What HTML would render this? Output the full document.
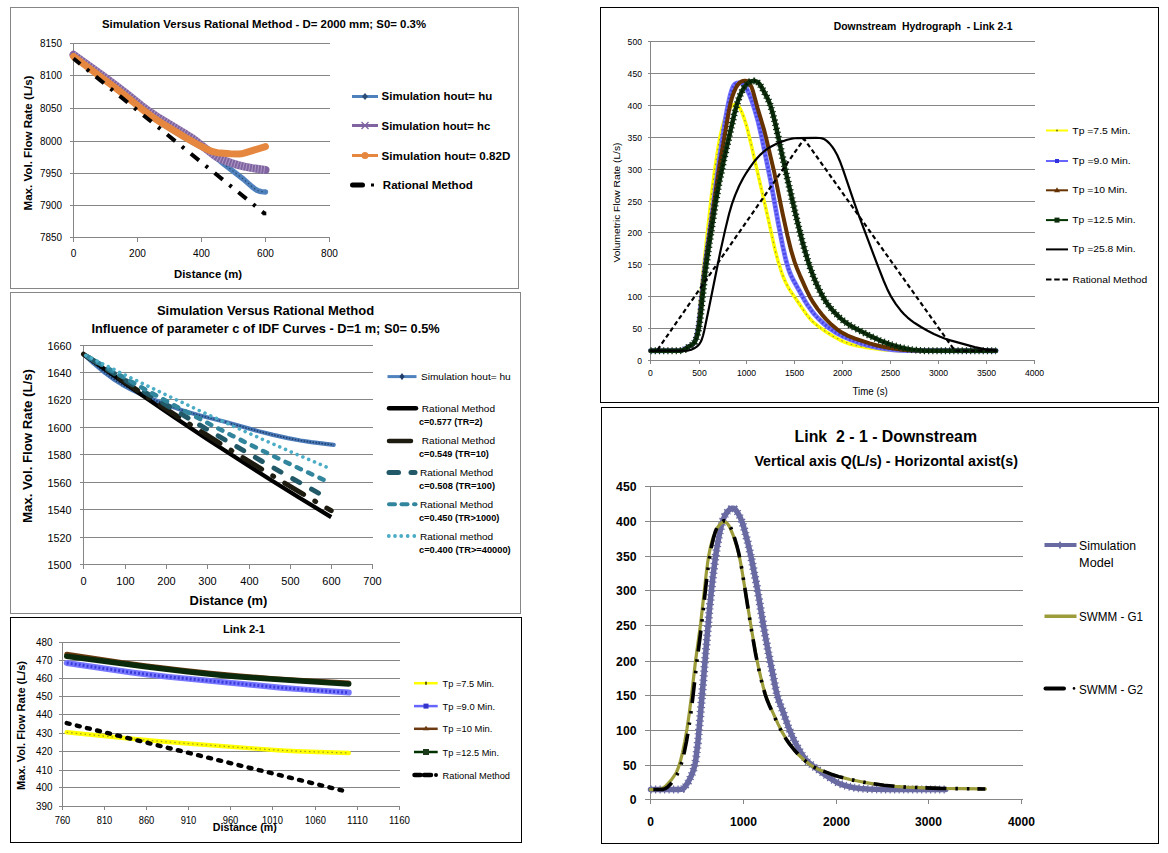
<!DOCTYPE html>
<html><head><meta charset="utf-8"><title>Charts</title>
<style>
html,body{margin:0;padding:0;background:#fff;}
svg{display:block;}
text{font-family:"Liberation Sans",sans-serif;white-space:pre;}
</style></head>
<body>
<svg width="1168" height="853" viewBox="0 0 1168 853">
<rect x="0" y="0" width="1168" height="853" fill="#fff"/>
<rect x="10.5" y="7.5" width="508" height="281" fill="none" stroke="#868686" stroke-width="1" shape-rendering="crispEdges"/>
<text x="102.0" y="28.0" font-size="11" font-weight="bold" textLength="324.0" lengthAdjust="spacingAndGlyphs">Simulation Versus Rational Method - D= 2000 mm; S0= 0.3%</text>
<line x1="70" y1="43.5" x2="329.5" y2="43.5" stroke="#868686" stroke-width="1" shape-rendering="crispEdges"/>
<text x="62.0" y="47.1" font-size="10" text-anchor="end" textLength="22.0" lengthAdjust="spacingAndGlyphs">8150</text>
<line x1="70" y1="75.5" x2="329.5" y2="75.5" stroke="#868686" stroke-width="1" shape-rendering="crispEdges"/>
<text x="62.0" y="79.1" font-size="10" text-anchor="end" textLength="22.0" lengthAdjust="spacingAndGlyphs">8100</text>
<line x1="70" y1="108.5" x2="329.5" y2="108.5" stroke="#868686" stroke-width="1" shape-rendering="crispEdges"/>
<text x="62.0" y="112.1" font-size="10" text-anchor="end" textLength="22.0" lengthAdjust="spacingAndGlyphs">8050</text>
<line x1="70" y1="141.5" x2="329.5" y2="141.5" stroke="#868686" stroke-width="1" shape-rendering="crispEdges"/>
<text x="62.0" y="145.1" font-size="10" text-anchor="end" textLength="22.0" lengthAdjust="spacingAndGlyphs">8000</text>
<line x1="70" y1="173.5" x2="329.5" y2="173.5" stroke="#868686" stroke-width="1" shape-rendering="crispEdges"/>
<text x="62.0" y="177.1" font-size="10" text-anchor="end" textLength="22.0" lengthAdjust="spacingAndGlyphs">7950</text>
<line x1="70" y1="205.5" x2="329.5" y2="205.5" stroke="#868686" stroke-width="1" shape-rendering="crispEdges"/>
<text x="62.0" y="209.1" font-size="10" text-anchor="end" textLength="22.0" lengthAdjust="spacingAndGlyphs">7900</text>
<line x1="70" y1="237.5" x2="329.5" y2="237.5" stroke="#868686" stroke-width="1" shape-rendering="crispEdges"/>
<text x="62.0" y="241.1" font-size="10" text-anchor="end" textLength="22.0" lengthAdjust="spacingAndGlyphs">7850</text>
<line x1="73.5" y1="43" x2="73.5" y2="241.5" stroke="#868686" stroke-width="1" shape-rendering="crispEdges"/>
<line x1="73.5" y1="237.5" x2="73.5" y2="241.5" stroke="#868686" stroke-width="1" shape-rendering="crispEdges"/>
<text x="73.5" y="256.5" font-size="10" text-anchor="middle" textLength="5.6" lengthAdjust="spacingAndGlyphs">0</text>
<line x1="137.5" y1="237.5" x2="137.5" y2="241.5" stroke="#868686" stroke-width="1" shape-rendering="crispEdges"/>
<text x="137.5" y="256.5" font-size="10" text-anchor="middle" textLength="16.8" lengthAdjust="spacingAndGlyphs">200</text>
<line x1="201.5" y1="237.5" x2="201.5" y2="241.5" stroke="#868686" stroke-width="1" shape-rendering="crispEdges"/>
<text x="201.5" y="256.5" font-size="10" text-anchor="middle" textLength="16.8" lengthAdjust="spacingAndGlyphs">400</text>
<line x1="265.5" y1="237.5" x2="265.5" y2="241.5" stroke="#868686" stroke-width="1" shape-rendering="crispEdges"/>
<text x="265.5" y="256.5" font-size="10" text-anchor="middle" textLength="16.8" lengthAdjust="spacingAndGlyphs">600</text>
<line x1="329.5" y1="237.5" x2="329.5" y2="241.5" stroke="#868686" stroke-width="1" shape-rendering="crispEdges"/>
<text x="329.5" y="256.5" font-size="10" text-anchor="middle" textLength="16.8" lengthAdjust="spacingAndGlyphs">800</text>
<text x="174.0" y="278.0" font-size="11" font-weight="bold" textLength="68.0" lengthAdjust="spacingAndGlyphs">Distance (m)</text>
<text x="31.8" y="210.5" font-size="11" font-weight="bold" textLength="135.0" lengthAdjust="spacingAndGlyphs" transform="rotate(-90 31.8 210.5)">Max. Vol. Flow Rate (L/s)</text>
<path d="M73.50,56.43 L117.00,89.10 L124.75,95.23 L142.22,109.65 L151.42,116.63 L159.58,122.05 L185.02,137.87 L192.71,142.39 L201.01,146.69 L207.07,150.48 L212.47,154.60 L225.18,165.07 L243.27,179.04 L252.09,186.81 L255.52,189.39 L257.48,190.51 L259.47,191.27 L261.48,191.62 L265.50,191.91" fill="none" stroke="#4F81BD" stroke-width="5.5" stroke-linecap="round" stroke-linejoin="round"/>
<path d="M73.50,56.43 L117.00,89.10 L124.75,95.23 L142.22,109.65 L151.42,116.63 L159.58,122.05 L185.02,137.87 L192.71,142.39 L201.01,146.69 L207.07,150.48 L212.47,154.60 L225.18,165.07 L243.27,179.04 L252.09,186.81 L255.52,189.39 L257.48,190.51 L259.47,191.27 L261.48,191.62 L265.50,191.91" fill="none" stroke="#2C4D75" stroke-width="1.2" stroke-linecap="butt" stroke-linejoin="round" stroke-dasharray="1.5 2.5"/>
<path d="M73.50,54.82 L103.47,76.33 L117.48,86.63 L125.24,92.58 L141.73,105.87 L149.49,111.70 L158.62,117.72 L185.02,133.60 L191.26,137.58 L197.12,141.80 L213.39,154.61 L216.38,156.67 L220.26,158.72 L225.10,160.79 L231.40,163.00 L238.22,165.08 L244.58,166.62 L252.39,168.16 L265.50,169.92" fill="none" stroke="#8064A2" stroke-width="8" stroke-linecap="round" stroke-linejoin="round"/>
<path d="M73.50,54.82 L103.47,76.33 L117.48,86.63 L125.24,92.58 L141.73,105.87 L149.49,111.70 L158.62,117.72 L185.02,133.60 L191.26,137.58 L197.12,141.80 L213.39,154.61 L216.38,156.67 L220.26,158.72 L225.10,160.79 L231.40,163.00 L238.22,165.08 L244.58,166.62 L252.39,168.16 L265.50,169.92" fill="none" stroke="#FFFFFF" stroke-width="8" stroke-linecap="butt" stroke-linejoin="round" stroke-dasharray="1 2" stroke-opacity="0.35"/>
<path d="M73.50,56.43 L116.52,88.74 L124.75,95.19 L142.22,109.40 L151.90,116.64 L161.02,122.63 L184.06,136.81 L199.42,145.45 L206.62,149.15 L212.86,151.66 L217.29,152.70 L230.04,153.81 L238.79,154.07 L241.22,153.81 L244.13,153.12 L265.50,146.64" fill="none" stroke="#E5873E" stroke-width="7" stroke-linecap="round" stroke-linejoin="round"/>
<path d="M73.5,58.5 L264.5,213.5" stroke="#000" stroke-width="4" fill="none" stroke-dasharray="10.5 8.5 3 8.6" stroke-dashoffset="1.85" stroke-linecap="butt"/>
<rect x="262.7" y="211.7" width="3.6" height="3.6" fill="#000"/>
<line x1="352" y1="96.5" x2="378" y2="96.5" stroke="#4F81BD" stroke-width="3"/>
<path d="M365,93.0 L368,96.5 L365,100.0 L362,96.5 Z" fill="#2C4D75"/>
<line x1="352" y1="125.5" x2="378" y2="125.5" stroke="#8064A2" stroke-width="3"/>
<path d="M361.5,122.0 L368.5,129.0 M368.5,122.0 L361.5,129.0" stroke="#8064A2" stroke-width="1.3"/>
<line x1="352" y1="155.5" x2="378" y2="155.5" stroke="#E5873E" stroke-width="3"/>
<circle cx="365" cy="155.5" r="3.5" fill="#E5873E"/>
<line x1="352.5" y1="185" x2="362.5" y2="185" stroke="#000" stroke-width="5" stroke-linecap="round"/>
<rect x="371" y="183.5" width="3" height="3" fill="#000"/>
<text x="381.6" y="100.3" font-size="11" font-weight="bold" textLength="110.7" lengthAdjust="spacingAndGlyphs">Simulation hout= hu</text>
<text x="381.6" y="130.0" font-size="11" font-weight="bold" textLength="108.7" lengthAdjust="spacingAndGlyphs">Simulation hout= hc</text>
<text x="381.6" y="160.0" font-size="11" font-weight="bold" textLength="128.7" lengthAdjust="spacingAndGlyphs">Simulation hout= 0.82D</text>
<text x="382.8" y="189.0" font-size="11" font-weight="bold" textLength="90.0" lengthAdjust="spacingAndGlyphs">Rational Method</text>
<rect x="10.5" y="292.5" width="510" height="321" fill="none" stroke="#868686" stroke-width="1" shape-rendering="crispEdges"/>
<text x="156.9" y="314.5" font-size="12" font-weight="bold" textLength="217.3" lengthAdjust="spacingAndGlyphs">Simulation Versus Rational Method</text>
<text x="91.5" y="332.8" font-size="12" font-weight="bold" textLength="348.2" lengthAdjust="spacingAndGlyphs">Influence of parameter c of IDF Curves - D=1 m; S0= 0.5%</text>
<line x1="79.5" y1="345.5" x2="373" y2="345.5" stroke="#868686" stroke-width="1" shape-rendering="crispEdges"/>
<text x="71.5" y="349.5" font-size="11" text-anchor="end" textLength="24.0" lengthAdjust="spacingAndGlyphs">1660</text>
<line x1="79.5" y1="372.5" x2="373" y2="372.5" stroke="#868686" stroke-width="1" shape-rendering="crispEdges"/>
<text x="71.5" y="376.5" font-size="11" text-anchor="end" textLength="24.0" lengthAdjust="spacingAndGlyphs">1640</text>
<line x1="79.5" y1="399.5" x2="373" y2="399.5" stroke="#868686" stroke-width="1" shape-rendering="crispEdges"/>
<text x="71.5" y="403.5" font-size="11" text-anchor="end" textLength="24.0" lengthAdjust="spacingAndGlyphs">1620</text>
<line x1="79.5" y1="427.5" x2="373" y2="427.5" stroke="#868686" stroke-width="1" shape-rendering="crispEdges"/>
<text x="71.5" y="431.5" font-size="11" text-anchor="end" textLength="24.0" lengthAdjust="spacingAndGlyphs">1600</text>
<line x1="79.5" y1="454.5" x2="373" y2="454.5" stroke="#868686" stroke-width="1" shape-rendering="crispEdges"/>
<text x="71.5" y="458.5" font-size="11" text-anchor="end" textLength="24.0" lengthAdjust="spacingAndGlyphs">1580</text>
<line x1="79.5" y1="482.5" x2="373" y2="482.5" stroke="#868686" stroke-width="1" shape-rendering="crispEdges"/>
<text x="71.5" y="486.5" font-size="11" text-anchor="end" textLength="24.0" lengthAdjust="spacingAndGlyphs">1560</text>
<line x1="79.5" y1="509.5" x2="373" y2="509.5" stroke="#868686" stroke-width="1" shape-rendering="crispEdges"/>
<text x="71.5" y="513.5" font-size="11" text-anchor="end" textLength="24.0" lengthAdjust="spacingAndGlyphs">1540</text>
<line x1="79.5" y1="537.5" x2="373" y2="537.5" stroke="#868686" stroke-width="1" shape-rendering="crispEdges"/>
<text x="71.5" y="541.5" font-size="11" text-anchor="end" textLength="24.0" lengthAdjust="spacingAndGlyphs">1520</text>
<line x1="79.5" y1="564.5" x2="373" y2="564.5" stroke="#868686" stroke-width="1" shape-rendering="crispEdges"/>
<text x="71.5" y="568.5" font-size="11" text-anchor="end" textLength="24.0" lengthAdjust="spacingAndGlyphs">1500</text>
<line x1="83.5" y1="345" x2="83.5" y2="568.5" stroke="#868686" stroke-width="1" shape-rendering="crispEdges"/>
<line x1="83.5" y1="564.5" x2="83.5" y2="568.5" stroke="#868686" stroke-width="1" shape-rendering="crispEdges"/>
<text x="83.5" y="584.5" font-size="11" text-anchor="middle" textLength="6.1" lengthAdjust="spacingAndGlyphs">0</text>
<line x1="125.5" y1="564.5" x2="125.5" y2="568.5" stroke="#868686" stroke-width="1" shape-rendering="crispEdges"/>
<text x="125.5" y="584.5" font-size="11" text-anchor="middle" textLength="18.3" lengthAdjust="spacingAndGlyphs">100</text>
<line x1="166.5" y1="564.5" x2="166.5" y2="568.5" stroke="#868686" stroke-width="1" shape-rendering="crispEdges"/>
<text x="166.5" y="584.5" font-size="11" text-anchor="middle" textLength="18.3" lengthAdjust="spacingAndGlyphs">200</text>
<line x1="207.5" y1="564.5" x2="207.5" y2="568.5" stroke="#868686" stroke-width="1" shape-rendering="crispEdges"/>
<text x="207.5" y="584.5" font-size="11" text-anchor="middle" textLength="18.3" lengthAdjust="spacingAndGlyphs">300</text>
<line x1="249.5" y1="564.5" x2="249.5" y2="568.5" stroke="#868686" stroke-width="1" shape-rendering="crispEdges"/>
<text x="249.5" y="584.5" font-size="11" text-anchor="middle" textLength="18.3" lengthAdjust="spacingAndGlyphs">400</text>
<line x1="290.5" y1="564.5" x2="290.5" y2="568.5" stroke="#868686" stroke-width="1" shape-rendering="crispEdges"/>
<text x="290.5" y="584.5" font-size="11" text-anchor="middle" textLength="18.3" lengthAdjust="spacingAndGlyphs">500</text>
<line x1="331.5" y1="564.5" x2="331.5" y2="568.5" stroke="#868686" stroke-width="1" shape-rendering="crispEdges"/>
<text x="331.5" y="584.5" font-size="11" text-anchor="middle" textLength="18.3" lengthAdjust="spacingAndGlyphs">600</text>
<line x1="372.5" y1="564.5" x2="372.5" y2="568.5" stroke="#868686" stroke-width="1" shape-rendering="crispEdges"/>
<text x="372.5" y="584.5" font-size="11" text-anchor="middle" textLength="18.3" lengthAdjust="spacingAndGlyphs">700</text>
<text x="189.6" y="605.3" font-size="12" font-weight="bold" textLength="77.7" lengthAdjust="spacingAndGlyphs">Distance (m)</text>
<text x="32.2" y="523.0" font-size="12.5" font-weight="bold" textLength="154.0" lengthAdjust="spacingAndGlyphs" transform="rotate(-90 32.2 523.0)">Max. Vol. Flow Rate (L/s)</text>
<path d="M83.50,354.21 L93.60,363.41 L104.89,372.79 L113.07,378.87 L121.98,384.59 L130.27,389.14 L140.49,393.99 L157.68,401.29 L171.53,406.63 L183.51,410.72 L198.03,414.98 L225.78,422.09 L258.67,431.27 L273.19,434.90 L287.80,438.14 L300.48,440.51 L311.13,442.07 L333.69,444.85" fill="none" stroke="#4A7AB8" stroke-width="4.2" stroke-linecap="round" stroke-linejoin="round"/>
<path d="M83.50,354.21 L93.60,363.41 L104.89,372.79 L113.07,378.87 L121.98,384.59 L130.27,389.14 L140.49,393.99 L157.68,401.29 L171.53,406.63 L183.51,410.72 L198.03,414.98 L225.78,422.09 L258.67,431.27 L273.19,434.90 L287.80,438.14 L300.48,440.51 L311.13,442.07 L333.69,444.85" fill="none" stroke="#1F3D6B" stroke-width="1.6" stroke-linecap="butt" stroke-linejoin="round" stroke-dasharray="1.5 1.5"/>
<path d="M83.50,354.21 L116.53,377.54 L145.43,397.55 L174.33,417.17 L207.36,439.14 L240.39,460.61 L269.29,478.99 L298.19,496.99 L331.21,517.10" fill="none" stroke="#000000" stroke-width="4.2" stroke-linecap="butt" stroke-linejoin="round"/>
<path d="M83.50,354.21 L112.40,373.69 L145.43,395.56 L174.33,414.34 L207.36,435.42 L236.26,453.51 L269.29,473.80 L302.31,493.66 L331.21,510.70" fill="none" stroke="#1D1B10" stroke-width="5" stroke-linecap="round" stroke-linejoin="round" stroke-dasharray="22 13 1 13" stroke-dashoffset="6"/>
<path d="M83.50,354.21 L116.53,374.80 L145.43,392.53 L203.23,427.18 L261.03,460.76 L289.93,477.15 L322.13,495.09" fill="none" stroke="#215968" stroke-width="5" stroke-linecap="round" stroke-linejoin="round" stroke-dasharray="8 13.5" stroke-dashoffset="14.5"/>
<path d="M83.50,354.21 L112.40,370.99 L141.30,387.31 L170.20,403.18 L203.23,420.75 L232.13,435.65 L265.16,452.11 L294.06,466.03 L325.43,480.63" fill="none" stroke="#31859C" stroke-width="4.5" stroke-linecap="round" stroke-linejoin="round" stroke-dasharray="4.5 8" stroke-dashoffset="8.5"/>
<path d="M83.50,354.21 L112.40,368.72 L141.30,382.93 L170.20,396.85 L203.23,412.41 L236.26,427.58 L265.16,440.55 L294.06,453.23 L326.67,467.19" fill="none" stroke="#4BACC6" stroke-width="3.6" stroke-linecap="round" stroke-linejoin="round" stroke-dasharray="0.01 6.3" stroke-dashoffset="3.8"/>
<line x1="387.5" y1="376.6" x2="416.5" y2="376.6" stroke="#4F81BD" stroke-width="3"/>
<path d="M402,373 L404.5,376.6 L402,380.2 L399.5,376.6 Z" fill="#1F3D6B"/>
<line x1="389" y1="408.3" x2="416" y2="408.3" stroke="#000" stroke-width="4.5" stroke-linecap="round"/>
<line x1="389" y1="440.9" x2="411" y2="440.9" stroke="#1D1B10" stroke-width="4.5" stroke-linecap="round"/>
<line x1="389" y1="472.6" x2="398.5" y2="472.6" stroke="#215968" stroke-width="5" stroke-linecap="round"/>
<line x1="411" y1="472.6" x2="415" y2="472.6" stroke="#215968" stroke-width="5" stroke-linecap="round"/>
<line x1="389" y1="504.3" x2="395" y2="504.3" stroke="#31859C" stroke-width="4" stroke-linecap="round"/>
<line x1="401.5" y1="504.3" x2="407.5" y2="504.3" stroke="#31859C" stroke-width="4" stroke-linecap="round"/>
<line x1="414" y1="504.3" x2="415.5" y2="504.3" stroke="#31859C" stroke-width="4" stroke-linecap="round"/>
<circle cx="388.8" cy="536" r="1.9" fill="#4BACC6"/>
<circle cx="395" cy="536" r="1.9" fill="#4BACC6"/>
<circle cx="401.2" cy="536" r="1.9" fill="#4BACC6"/>
<circle cx="407.7" cy="536" r="1.9" fill="#4BACC6"/>
<circle cx="414.3" cy="536" r="1.9" fill="#4BACC6"/>
<text x="420.9" y="380.0" font-size="9" textLength="89.8" lengthAdjust="spacingAndGlyphs">Simulation hout= hu</text>
<text x="421.8" y="412.0" font-size="9" textLength="73.2" lengthAdjust="spacingAndGlyphs">Rational Method</text>
<text x="419.0" y="425.4" font-size="9" font-weight="bold" textLength="63.6" lengthAdjust="spacingAndGlyphs">c=0.577 (TR=2)</text>
<text x="421.8" y="444.1" font-size="9" textLength="73.2" lengthAdjust="spacingAndGlyphs">Rational Method</text>
<text x="419.0" y="457.0" font-size="9" font-weight="bold" textLength="69.9" lengthAdjust="spacingAndGlyphs">c=0.549 (TR=10)</text>
<text x="420.0" y="476.0" font-size="9" textLength="73.2" lengthAdjust="spacingAndGlyphs">Rational Method</text>
<text x="419.0" y="488.8" font-size="9" font-weight="bold" textLength="76.0" lengthAdjust="spacingAndGlyphs">c=0.508 (TR=100)</text>
<text x="420.0" y="507.5" font-size="9" textLength="73.2" lengthAdjust="spacingAndGlyphs">Rational Method</text>
<text x="419.0" y="520.5" font-size="9" font-weight="bold" textLength="80.4" lengthAdjust="spacingAndGlyphs">c=0.450 (TR&gt;1000)</text>
<text x="420.0" y="539.5" font-size="9" textLength="73.2" lengthAdjust="spacingAndGlyphs">Rational method</text>
<text x="419.0" y="552.9" font-size="9" font-weight="bold" textLength="91.7" lengthAdjust="spacingAndGlyphs">c=0.400 (TR&gt;=40000)</text>
<rect x="10.5" y="617.5" width="510.5" height="225" fill="none" stroke="#000" stroke-width="1" shape-rendering="crispEdges"/>
<text x="223.0" y="633.3" font-size="10" font-weight="bold" textLength="42.0" lengthAdjust="spacingAndGlyphs">Link 2-1</text>
<line x1="58.5" y1="642.5" x2="399.5" y2="642.5" stroke="#868686" stroke-width="1" shape-rendering="crispEdges"/>
<text x="52.5" y="646.0" font-size="10" text-anchor="end" textLength="16.5" lengthAdjust="spacingAndGlyphs">480</text>
<line x1="58.5" y1="660.5" x2="399.5" y2="660.5" stroke="#868686" stroke-width="1" shape-rendering="crispEdges"/>
<text x="52.5" y="664.0" font-size="10" text-anchor="end" textLength="16.5" lengthAdjust="spacingAndGlyphs">470</text>
<line x1="58.5" y1="678.5" x2="399.5" y2="678.5" stroke="#868686" stroke-width="1" shape-rendering="crispEdges"/>
<text x="52.5" y="682.0" font-size="10" text-anchor="end" textLength="16.5" lengthAdjust="spacingAndGlyphs">460</text>
<line x1="58.5" y1="696.5" x2="399.5" y2="696.5" stroke="#868686" stroke-width="1" shape-rendering="crispEdges"/>
<text x="52.5" y="700.0" font-size="10" text-anchor="end" textLength="16.5" lengthAdjust="spacingAndGlyphs">450</text>
<line x1="58.5" y1="714.5" x2="399.5" y2="714.5" stroke="#868686" stroke-width="1" shape-rendering="crispEdges"/>
<text x="52.5" y="718.0" font-size="10" text-anchor="end" textLength="16.5" lengthAdjust="spacingAndGlyphs">440</text>
<line x1="58.5" y1="733.5" x2="399.5" y2="733.5" stroke="#868686" stroke-width="1" shape-rendering="crispEdges"/>
<text x="52.5" y="737.0" font-size="10" text-anchor="end" textLength="16.5" lengthAdjust="spacingAndGlyphs">430</text>
<line x1="58.5" y1="751.5" x2="399.5" y2="751.5" stroke="#868686" stroke-width="1" shape-rendering="crispEdges"/>
<text x="52.5" y="755.0" font-size="10" text-anchor="end" textLength="16.5" lengthAdjust="spacingAndGlyphs">420</text>
<line x1="58.5" y1="770.5" x2="399.5" y2="770.5" stroke="#868686" stroke-width="1" shape-rendering="crispEdges"/>
<text x="52.5" y="774.0" font-size="10" text-anchor="end" textLength="16.5" lengthAdjust="spacingAndGlyphs">410</text>
<line x1="58.5" y1="787.5" x2="399.5" y2="787.5" stroke="#868686" stroke-width="1" shape-rendering="crispEdges"/>
<text x="52.5" y="791.0" font-size="10" text-anchor="end" textLength="16.5" lengthAdjust="spacingAndGlyphs">400</text>
<line x1="58.5" y1="806.5" x2="399.5" y2="806.5" stroke="#868686" stroke-width="1" shape-rendering="crispEdges"/>
<text x="52.5" y="810.0" font-size="10" text-anchor="end" textLength="16.5" lengthAdjust="spacingAndGlyphs">390</text>
<line x1="62.5" y1="642" x2="62.5" y2="809.5" stroke="#868686" stroke-width="1" shape-rendering="crispEdges"/>
<line x1="62.5" y1="806.5" x2="62.5" y2="809.5" stroke="#868686" stroke-width="1" shape-rendering="crispEdges"/>
<text x="62.5" y="823.8" font-size="10" text-anchor="middle" textLength="15.6" lengthAdjust="spacingAndGlyphs">760</text>
<line x1="104.5" y1="806.5" x2="104.5" y2="809.5" stroke="#868686" stroke-width="1" shape-rendering="crispEdges"/>
<text x="104.5" y="823.8" font-size="10" text-anchor="middle" textLength="15.6" lengthAdjust="spacingAndGlyphs">810</text>
<line x1="146.5" y1="806.5" x2="146.5" y2="809.5" stroke="#868686" stroke-width="1" shape-rendering="crispEdges"/>
<text x="146.5" y="823.8" font-size="10" text-anchor="middle" textLength="15.6" lengthAdjust="spacingAndGlyphs">860</text>
<line x1="188.5" y1="806.5" x2="188.5" y2="809.5" stroke="#868686" stroke-width="1" shape-rendering="crispEdges"/>
<text x="188.5" y="823.8" font-size="10" text-anchor="middle" textLength="15.6" lengthAdjust="spacingAndGlyphs">910</text>
<line x1="230.5" y1="806.5" x2="230.5" y2="809.5" stroke="#868686" stroke-width="1" shape-rendering="crispEdges"/>
<text x="230.5" y="823.8" font-size="10" text-anchor="middle" textLength="15.6" lengthAdjust="spacingAndGlyphs">960</text>
<line x1="272.5" y1="806.5" x2="272.5" y2="809.5" stroke="#868686" stroke-width="1" shape-rendering="crispEdges"/>
<text x="272.5" y="823.8" font-size="10" text-anchor="middle" textLength="20.8" lengthAdjust="spacingAndGlyphs">1010</text>
<line x1="315.5" y1="806.5" x2="315.5" y2="809.5" stroke="#868686" stroke-width="1" shape-rendering="crispEdges"/>
<text x="315.5" y="823.8" font-size="10" text-anchor="middle" textLength="20.8" lengthAdjust="spacingAndGlyphs">1060</text>
<line x1="357.5" y1="806.5" x2="357.5" y2="809.5" stroke="#868686" stroke-width="1" shape-rendering="crispEdges"/>
<text x="357.5" y="823.8" font-size="10" text-anchor="middle" textLength="20.8" lengthAdjust="spacingAndGlyphs">1110</text>
<line x1="399.5" y1="806.5" x2="399.5" y2="809.5" stroke="#868686" stroke-width="1" shape-rendering="crispEdges"/>
<text x="399.5" y="823.8" font-size="10" text-anchor="middle" textLength="20.8" lengthAdjust="spacingAndGlyphs">1160</text>
<text x="212.8" y="830.8" font-size="11" font-weight="bold" textLength="64.0" lengthAdjust="spacingAndGlyphs">Distance (m)</text>
<text x="25.0" y="790.0" font-size="11" font-weight="bold" textLength="129.0" lengthAdjust="spacingAndGlyphs" transform="rotate(-90 25.0 790.0)">Max. Vol. Flow Rate (L/s)</text>
<path d="M66.71,732.33 L123.93,738.06 L153.62,740.81 L184.14,743.27 L255.81,748.63 L277.79,750.14 L296.23,751.16 L348.78,753.02" fill="none" stroke="#FFFF00" stroke-width="4.5" stroke-linecap="round" stroke-linejoin="round"/>
<path d="M66.71,732.33 L123.93,738.06 L153.62,740.81 L184.14,743.27 L255.81,748.63 L277.79,750.14 L296.23,751.16 L348.78,753.02" fill="none" stroke="#9A9A20" stroke-width="1.2" stroke-linecap="butt" stroke-linejoin="round" stroke-dasharray="1.5 3"/>
<path d="M66.71,663.02 L131.70,672.45 L150.07,674.82 L168.53,676.89 L281.33,687.70 L305.46,689.63 L348.78,692.60" fill="none" stroke="#7777FF" stroke-width="6" stroke-linecap="round" stroke-linejoin="round"/>
<path d="M66.71,663.02 L131.70,672.45 L150.07,674.82 L168.53,676.89 L281.33,687.70 L305.46,689.63 L348.78,692.60" fill="none" stroke="#3B3BDD" stroke-width="3" stroke-linecap="butt" stroke-linejoin="round" stroke-dasharray="2 2"/>
<path d="M66.71,654.31 L119.69,662.11 L145.12,665.64 L178.46,669.77 L210.41,673.26 L240.21,676.04 L274.24,678.65 L303.33,680.55 L348.78,682.98" fill="none" stroke="#6B3A10" stroke-width="5" stroke-linecap="round" stroke-linejoin="round"/>
<path d="M66.71,656.31 L145.83,666.68 L187.69,671.70 L216.09,674.75 L234.53,676.41 L256.51,678.05 L301.91,681.04 L348.78,683.89" fill="none" stroke="#0B2A0B" stroke-width="5.5" stroke-linecap="round" stroke-linejoin="round"/>
<path d="M66.71,723.08 L342.04,790.40" fill="none" stroke="#000" stroke-width="4.4" stroke-linecap="round" stroke-linejoin="round" stroke-dasharray="3 7.4"/>
<line x1="414" y1="683.2" x2="437.7" y2="683.2" stroke="#FFFF00" stroke-width="2.5"/>
<rect x="425" y="681.7" width="2" height="3" fill="#666600"/>
<line x1="414" y1="706.1" x2="437.7" y2="706.1" stroke="#6666FF" stroke-width="2.5"/>
<rect x="423.5" y="703.6" width="5" height="5" fill="#3333CC"/>
<line x1="414" y1="728.8" x2="437.7" y2="728.8" stroke="#6B3A10" stroke-width="2.5"/>
<path d="M426,725.8 L429,730.3 L423,730.3 Z" fill="#6B3A10"/>
<line x1="414" y1="752" x2="437.7" y2="752" stroke="#003300" stroke-width="2.5"/>
<rect x="423" y="749" width="6" height="6" fill="#1A3A1A"/>
<line x1="414.5" y1="774.9" x2="420.5" y2="774.9" stroke="#000" stroke-width="4.5" stroke-linecap="round"/>
<line x1="424" y1="774.9" x2="431" y2="774.9" stroke="#000" stroke-width="4.5" stroke-linecap="round"/>
<circle cx="436" cy="774.9" r="2" fill="#000"/>
<text x="442.6" y="686.5" font-size="9.5" textLength="51.6" lengthAdjust="spacingAndGlyphs">Tp =7.5 Min.</text>
<text x="442.6" y="709.5" font-size="9.5" textLength="52.4" lengthAdjust="spacingAndGlyphs">Tp =9.0 Min.</text>
<text x="442.6" y="732.3" font-size="9.5" textLength="49.7" lengthAdjust="spacingAndGlyphs">Tp =10 Min.</text>
<text x="442.6" y="755.5" font-size="9.5" textLength="56.4" lengthAdjust="spacingAndGlyphs">Tp =12.5 Min.</text>
<text x="442.6" y="778.5" font-size="9.5" textLength="67.4" lengthAdjust="spacingAndGlyphs">Rational Method</text>
<rect x="600.5" y="7.5" width="558" height="395" fill="none" stroke="#000" stroke-width="1" shape-rendering="crispEdges"/>
<text x="833.7" y="30.0" font-size="10.5" font-weight="bold" textLength="178.9" lengthAdjust="spacingAndGlyphs">Downstream  Hydrograph  - Link 2-1</text>
<line x1="647.5" y1="360.5" x2="1035" y2="360.5" stroke="#868686" stroke-width="1" shape-rendering="crispEdges"/>
<text x="642.0" y="363.5" font-size="8.5" text-anchor="end" textLength="4.8" lengthAdjust="spacingAndGlyphs">0</text>
<line x1="647.5" y1="328.5" x2="1035" y2="328.5" stroke="#868686" stroke-width="1" shape-rendering="crispEdges"/>
<text x="642.0" y="331.5" font-size="8.5" text-anchor="end" textLength="9.6" lengthAdjust="spacingAndGlyphs">50</text>
<line x1="647.5" y1="296.5" x2="1035" y2="296.5" stroke="#868686" stroke-width="1" shape-rendering="crispEdges"/>
<text x="642.0" y="299.5" font-size="8.5" text-anchor="end" textLength="14.4" lengthAdjust="spacingAndGlyphs">100</text>
<line x1="647.5" y1="264.5" x2="1035" y2="264.5" stroke="#868686" stroke-width="1" shape-rendering="crispEdges"/>
<text x="642.0" y="267.5" font-size="8.5" text-anchor="end" textLength="14.4" lengthAdjust="spacingAndGlyphs">150</text>
<line x1="647.5" y1="232.5" x2="1035" y2="232.5" stroke="#868686" stroke-width="1" shape-rendering="crispEdges"/>
<text x="642.0" y="235.5" font-size="8.5" text-anchor="end" textLength="14.4" lengthAdjust="spacingAndGlyphs">200</text>
<line x1="647.5" y1="201.5" x2="1035" y2="201.5" stroke="#868686" stroke-width="1" shape-rendering="crispEdges"/>
<text x="642.0" y="204.5" font-size="8.5" text-anchor="end" textLength="14.4" lengthAdjust="spacingAndGlyphs">250</text>
<line x1="647.5" y1="169.5" x2="1035" y2="169.5" stroke="#868686" stroke-width="1" shape-rendering="crispEdges"/>
<text x="642.0" y="172.5" font-size="8.5" text-anchor="end" textLength="14.4" lengthAdjust="spacingAndGlyphs">300</text>
<line x1="647.5" y1="137.5" x2="1035" y2="137.5" stroke="#868686" stroke-width="1" shape-rendering="crispEdges"/>
<text x="642.0" y="140.5" font-size="8.5" text-anchor="end" textLength="14.4" lengthAdjust="spacingAndGlyphs">350</text>
<line x1="647.5" y1="105.5" x2="1035" y2="105.5" stroke="#868686" stroke-width="1" shape-rendering="crispEdges"/>
<text x="642.0" y="108.5" font-size="8.5" text-anchor="end" textLength="14.4" lengthAdjust="spacingAndGlyphs">400</text>
<line x1="647.5" y1="73.5" x2="1035" y2="73.5" stroke="#868686" stroke-width="1" shape-rendering="crispEdges"/>
<text x="642.0" y="76.5" font-size="8.5" text-anchor="end" textLength="14.4" lengthAdjust="spacingAndGlyphs">450</text>
<line x1="647.5" y1="41.5" x2="1035" y2="41.5" stroke="#868686" stroke-width="1" shape-rendering="crispEdges"/>
<text x="642.0" y="44.5" font-size="8.5" text-anchor="end" textLength="14.4" lengthAdjust="spacingAndGlyphs">500</text>
<line x1="650.5" y1="41" x2="650.5" y2="363.5" stroke="#868686" stroke-width="1" shape-rendering="crispEdges"/>
<line x1="650.5" y1="360.5" x2="650.5" y2="363.5" stroke="#868686" stroke-width="1" shape-rendering="crispEdges"/>
<text x="650.5" y="375.5" font-size="8.5" text-anchor="middle" textLength="4.8" lengthAdjust="spacingAndGlyphs">0</text>
<line x1="699.5" y1="360.5" x2="699.5" y2="363.5" stroke="#868686" stroke-width="1" shape-rendering="crispEdges"/>
<text x="699.5" y="375.5" font-size="8.5" text-anchor="middle" textLength="14.4" lengthAdjust="spacingAndGlyphs">500</text>
<line x1="746.5" y1="360.5" x2="746.5" y2="363.5" stroke="#868686" stroke-width="1" shape-rendering="crispEdges"/>
<text x="746.5" y="375.5" font-size="8.5" text-anchor="middle" textLength="19.2" lengthAdjust="spacingAndGlyphs">1000</text>
<line x1="794.5" y1="360.5" x2="794.5" y2="363.5" stroke="#868686" stroke-width="1" shape-rendering="crispEdges"/>
<text x="794.5" y="375.5" font-size="8.5" text-anchor="middle" textLength="19.2" lengthAdjust="spacingAndGlyphs">1500</text>
<line x1="842.5" y1="360.5" x2="842.5" y2="363.5" stroke="#868686" stroke-width="1" shape-rendering="crispEdges"/>
<text x="842.5" y="375.5" font-size="8.5" text-anchor="middle" textLength="19.2" lengthAdjust="spacingAndGlyphs">2000</text>
<line x1="890.5" y1="360.5" x2="890.5" y2="363.5" stroke="#868686" stroke-width="1" shape-rendering="crispEdges"/>
<text x="890.5" y="375.5" font-size="8.5" text-anchor="middle" textLength="19.2" lengthAdjust="spacingAndGlyphs">2500</text>
<line x1="938.5" y1="360.5" x2="938.5" y2="363.5" stroke="#868686" stroke-width="1" shape-rendering="crispEdges"/>
<text x="938.5" y="375.5" font-size="8.5" text-anchor="middle" textLength="19.2" lengthAdjust="spacingAndGlyphs">3000</text>
<line x1="986.5" y1="360.5" x2="986.5" y2="363.5" stroke="#868686" stroke-width="1" shape-rendering="crispEdges"/>
<text x="986.5" y="375.5" font-size="8.5" text-anchor="middle" textLength="19.2" lengthAdjust="spacingAndGlyphs">3500</text>
<line x1="1034.5" y1="360.5" x2="1034.5" y2="363.5" stroke="#868686" stroke-width="1" shape-rendering="crispEdges"/>
<text x="1034.5" y="375.5" font-size="8.5" text-anchor="middle" textLength="19.2" lengthAdjust="spacingAndGlyphs">4000</text>
<text x="852.5" y="395.0" font-size="10" textLength="35.3" lengthAdjust="spacingAndGlyphs">Time (s)</text>
<text x="619.5" y="262.5" font-size="9.5" textLength="120.0" lengthAdjust="spacingAndGlyphs" transform="rotate(-90 619.5 262.5)">Volumetric Flow Rate (L/s)</text>
<path d="M650.50,350.73 L677.00,350.72 L680.84,350.34 L683.33,349.41 L687.75,346.97 L692.36,344.74 L693.32,343.84 L694.08,342.78 L695.43,339.74 L696.96,333.21 L698.31,323.45 L703.49,267.77 L711.36,196.47 L715.01,167.93 L718.28,146.42 L720.00,137.11 L721.92,128.56 L723.84,121.62 L725.96,115.59 L728.07,111.09 L730.56,107.36 L731.91,105.94 L733.06,105.06 L734.21,104.50 L735.36,104.28 L736.71,104.58 L737.86,105.42 L739.20,107.12 L740.55,109.48 L742.08,112.80 L743.81,117.24 L746.88,127.01 L751.11,144.27 L767.81,217.14 L774.92,249.25 L778.18,261.67 L781.83,273.03 L783.75,278.05 L785.67,282.43 L787.78,286.56 L790.08,290.42 L806.21,314.00 L809.67,318.39 L813.12,322.02 L818.12,326.19 L825.99,331.78 L833.09,336.26 L839.62,339.80 L845.19,342.29 L850.76,344.24 L856.90,345.83 L864.00,347.14 L883.20,349.65 L890.88,350.29 L898.76,350.64 L996.10,350.73" fill="none" stroke="#FFFF00" stroke-width="3.5" stroke-linecap="round" stroke-linejoin="round"/>
<path d="M650.50,350.73 L677.00,350.72 L680.84,350.34 L683.33,349.41 L687.75,346.97 L692.36,344.74 L693.32,343.84 L694.08,342.78 L695.43,339.74 L696.96,333.21 L698.31,323.45 L703.49,267.77 L711.36,196.47 L715.01,167.93 L718.28,146.42 L720.00,137.11 L721.92,128.56 L723.84,121.62 L725.96,115.59 L728.07,111.09 L730.56,107.36 L731.91,105.94 L733.06,105.06 L734.21,104.50 L735.36,104.28 L736.71,104.58 L737.86,105.42 L739.20,107.12 L740.55,109.48 L742.08,112.80 L743.81,117.24 L746.88,127.01 L751.11,144.27 L767.81,217.14 L774.92,249.25 L778.18,261.67 L781.83,273.03 L783.75,278.05 L785.67,282.43 L787.78,286.56 L790.08,290.42 L806.21,314.00 L809.67,318.39 L813.12,322.02 L818.12,326.19 L825.99,331.78 L833.09,336.26 L839.62,339.80 L845.19,342.29 L850.76,344.24 L856.90,345.83 L864.00,347.14 L883.20,349.65 L890.88,350.29 L898.76,350.64 L996.10,350.73" fill="none" stroke="#8E8E30" stroke-width="1.1" stroke-linecap="butt" stroke-linejoin="round" stroke-dasharray="1.5 3.5"/>
<path d="M650.50,350.73 L677.76,350.72 L681.41,350.36 L683.72,349.44 L687.94,346.93 L691.40,345.32 L692.55,344.58 L693.51,343.61 L694.28,342.49 L695.81,338.90 L697.35,332.76 L698.69,324.31 L700.04,312.48 L703.11,281.04 L705.22,263.14 L711.56,217.85 L720.20,153.27 L725.19,120.52 L727.11,109.73 L729.03,100.23 L730.56,93.85 L732.10,88.91 L733.44,85.95 L734.98,83.99 L736.71,83.06 L739.01,82.80 L741.51,83.09 L742.47,83.50 L743.43,84.19 L745.35,86.49 L747.46,90.21 L749.76,95.32 L752.07,101.53 L755.14,111.11 L757.83,120.52 L761.28,135.13 L770.50,180.13 L778.37,223.79 L782.60,245.55 L785.67,259.28 L788.36,268.64 L790.28,273.77 L792.58,278.71 L804.87,300.81 L807.94,305.66 L811.01,309.96 L814.66,314.49 L818.31,318.51 L823.88,323.82 L829.83,328.58 L835.78,332.53 L842.12,335.94 L850.37,339.54 L860.93,343.37 L869.00,345.66 L877.83,347.53 L885.51,348.77 L893.38,349.78 L899.72,350.31 L906.63,350.61 L996.10,350.73" fill="none" stroke="#7373FF" stroke-width="4.8" stroke-linecap="round" stroke-linejoin="round"/>
<path d="M650.50,350.73 L677.76,350.72 L681.41,350.36 L683.72,349.44 L687.94,346.93 L691.40,345.32 L692.55,344.58 L693.51,343.61 L694.28,342.49 L695.81,338.90 L697.35,332.76 L698.69,324.31 L700.04,312.48 L703.11,281.04 L705.22,263.14 L711.56,217.85 L720.20,153.27 L725.19,120.52 L727.11,109.73 L729.03,100.23 L730.56,93.85 L732.10,88.91 L733.44,85.95 L734.98,83.99 L736.71,83.06 L739.01,82.80 L741.51,83.09 L742.47,83.50 L743.43,84.19 L745.35,86.49 L747.46,90.21 L749.76,95.32 L752.07,101.53 L755.14,111.11 L757.83,120.52 L761.28,135.13 L770.50,180.13 L778.37,223.79 L782.60,245.55 L785.67,259.28 L788.36,268.64 L790.28,273.77 L792.58,278.71 L804.87,300.81 L807.94,305.66 L811.01,309.96 L814.66,314.49 L818.31,318.51 L823.88,323.82 L829.83,328.58 L835.78,332.53 L842.12,335.94 L850.37,339.54 L860.93,343.37 L869.00,345.66 L877.83,347.53 L885.51,348.77 L893.38,349.78 L899.72,350.31 L906.63,350.61 L996.10,350.73" fill="none" stroke="#4848E8" stroke-width="3" stroke-linecap="butt" stroke-linejoin="round" stroke-dasharray="2 2"/>
<path d="M650.50,350.73 L678.53,350.72 L681.99,350.38 L684.10,349.50 L688.13,346.90 L691.59,345.19 L692.74,344.41 L694.47,342.26 L696.00,338.74 L697.73,331.93 L699.08,323.42 L700.23,313.43 L703.30,282.26 L705.03,267.52 L716.74,183.92 L719.81,163.90 L728.84,111.26 L730.37,103.86 L731.91,97.98 L733.64,92.83 L735.75,88.06 L737.67,84.86 L739.78,82.50 L742.08,81.10 L744.58,80.66 L746.69,81.05 L748.61,82.30 L750.15,84.26 L751.68,87.42 L753.22,91.97 L757.64,108.36 L763.78,128.76 L765.89,137.01 L774.15,171.91 L782.40,212.59 L787.59,236.20 L791.24,250.90 L794.50,261.68 L797.00,268.47 L799.88,275.33 L806.40,289.89 L810.05,297.18 L813.32,302.68 L817.54,308.86 L821.76,314.34 L826.18,319.39 L831.36,324.55 L836.74,329.08 L841.92,332.59 L847.49,335.55 L855.17,338.65 L869.57,343.38 L877.25,345.48 L885.70,347.27 L893.38,348.53 L902.02,349.67 L908.36,350.23 L915.46,350.57 L926.79,350.73 L996.10,350.73" fill="none" stroke="#663300" stroke-width="4" stroke-linecap="round" stroke-linejoin="round"/>
<path d="M650.50,350.73 L679.11,350.73 L682.37,350.45 L684.48,349.57 L688.52,346.75 L692.74,344.38 L694.47,342.37 L696.00,339.23 L696.96,336.39 L697.92,332.64 L699.46,324.00 L700.61,314.90 L703.68,285.47 L705.60,269.46 L708.10,251.61 L714.24,210.89 L718.47,186.06 L723.65,160.71 L734.60,112.82 L736.71,104.97 L739.01,98.06 L740.74,93.82 L742.47,90.26 L744.20,87.33 L746.12,84.77 L747.84,83.10 L749.76,81.87 L751.68,81.20 L753.80,80.98 L755.72,81.22 L757.25,81.86 L758.79,83.12 L760.13,84.81 L762.05,88.02 L767.04,97.37 L768.77,101.14 L770.31,105.19 L772.80,113.54 L775.68,125.28 L786.44,174.67 L797.19,220.99 L802.18,240.85 L807.17,258.39 L810.05,267.32 L812.93,275.26 L816.20,283.26 L819.46,290.29 L822.72,296.42 L825.99,301.70 L829.44,306.51 L833.28,311.11 L838.66,316.65 L843.46,320.84 L848.45,324.39 L854.60,327.98 L869.38,335.60 L880.13,340.53 L890.69,344.57 L900.68,347.50 L906.44,348.74 L912.20,349.66 L918.15,350.29 L924.29,350.64 L996.10,350.73" fill="none" stroke="#0D2E0D" stroke-width="4.5" stroke-linecap="round" stroke-linejoin="round"/>
<path d="M650.50,350.73 L679.11,350.73 L682.37,350.45 L684.48,349.57 L688.52,346.75 L692.74,344.38 L694.47,342.37 L696.00,339.23 L696.96,336.39 L697.92,332.64 L699.46,324.00 L700.61,314.90 L703.68,285.47 L705.60,269.46 L708.10,251.61 L714.24,210.89 L718.47,186.06 L723.65,160.71 L734.60,112.82 L736.71,104.97 L739.01,98.06 L740.74,93.82 L742.47,90.26 L744.20,87.33 L746.12,84.77 L747.84,83.10 L749.76,81.87 L751.68,81.20 L753.80,80.98 L755.72,81.22 L757.25,81.86 L758.79,83.12 L760.13,84.81 L762.05,88.02 L767.04,97.37 L768.77,101.14 L770.31,105.19 L772.80,113.54 L775.68,125.28 L786.44,174.67 L797.19,220.99 L802.18,240.85 L807.17,258.39 L810.05,267.32 L812.93,275.26 L816.20,283.26 L819.46,290.29 L822.72,296.42 L825.99,301.70 L829.44,306.51 L833.28,311.11 L838.66,316.65 L843.46,320.84 L848.45,324.39 L854.60,327.98 L869.38,335.60 L880.13,340.53 L890.69,344.57 L900.68,347.50 L906.44,348.74 L912.20,349.66 L918.15,350.29 L924.29,350.64 L996.10,350.73" fill="none" stroke="#0D2E0D" stroke-width="7" stroke-linecap="butt" stroke-linejoin="round" stroke-dasharray="1.2 3"/>
<path d="M650.50,350.73 L679.11,350.73 L682.37,350.45 L684.48,349.57 L688.52,346.75 L692.74,344.38 L694.47,342.37 L696.00,339.23 L696.96,336.39 L697.92,332.64 L699.46,324.00 L700.61,314.90 L703.68,285.47 L705.60,269.46 L708.10,251.61 L714.24,210.89 L718.47,186.06 L723.65,160.71 L734.60,112.82 L736.71,104.97 L739.01,98.06 L740.74,93.82 L742.47,90.26 L744.20,87.33 L746.12,84.77 L747.84,83.10 L749.76,81.87 L751.68,81.20 L753.80,80.98 L755.72,81.22 L757.25,81.86 L758.79,83.12 L760.13,84.81 L762.05,88.02 L767.04,97.37 L768.77,101.14 L770.31,105.19 L772.80,113.54 L775.68,125.28 L786.44,174.67 L797.19,220.99 L802.18,240.85 L807.17,258.39 L810.05,267.32 L812.93,275.26 L816.20,283.26 L819.46,290.29 L822.72,296.42 L825.99,301.70 L829.44,306.51 L833.28,311.11 L838.66,316.65 L843.46,320.84 L848.45,324.39 L854.60,327.98 L869.38,335.60 L880.13,340.53 L890.69,344.57 L900.68,347.50 L906.44,348.74 L912.20,349.66 L918.15,350.29 L924.29,350.64 L996.10,350.73" fill="none" stroke="#001800" stroke-width="2" stroke-linecap="butt" stroke-linejoin="round" stroke-dasharray="2 2.5"/>
<path d="M650.50,350.73 L684.48,350.73 L688.13,350.55 L691.20,349.79 L694.28,348.33 L697.16,346.37 L699.27,344.20 L700.80,341.73 L701.96,338.97 L703.11,335.20 L704.26,330.49 L709.06,307.57 L720.39,251.37 L725.00,230.63 L729.03,214.05 L731.91,204.18 L735.17,195.10 L739.20,185.77 L743.24,177.96 L746.50,172.53 L750.15,167.07 L753.80,162.14 L757.25,157.98 L760.71,154.34 L764.16,151.24 L767.62,148.67 L771.27,146.44 L776.07,144.05 L782.21,141.49 L787.20,139.80 L791.62,138.71 L794.69,138.25 L797.76,138.05 L815.81,137.96 L819.84,138.01 L822.15,138.36 L824.45,139.28 L826.76,140.84 L829.44,143.37 L832.13,146.64 L834.82,150.69 L837.32,155.29 L839.81,160.96 L842.69,168.63 L854.60,203.67 L858.24,213.92 L877.06,263.94 L883.78,281.02 L887.62,289.87 L891.27,296.91 L895.68,303.88 L900.68,310.39 L904.13,314.21 L907.59,317.54 L911.04,320.42 L914.69,323.03 L921.03,326.98 L927.56,330.68 L933.89,333.90 L940.23,336.75 L945.22,338.71 L950.40,340.40 L974.79,347.07 L985.35,349.35 L996.10,350.65" fill="none" stroke="#000" stroke-width="2.2" stroke-linecap="round" stroke-linejoin="round"/>
<path d="M650.50,350.73 L656.84,350.73 L804.10,138.91 L954.82,350.73 L996.10,350.73" fill="none" stroke="#000" stroke-width="2.2" stroke-linecap="butt" stroke-linejoin="round" stroke-dasharray="4.5 3"/>
<line x1="1046" y1="130.5" x2="1068" y2="130.5" stroke="#FFFF00" stroke-width="2"/>
<circle cx="1057" cy="130.5" r="1" fill="#777700"/>
<line x1="1046" y1="161" x2="1068" y2="161" stroke="#6666FF" stroke-width="2"/>
<rect x="1055" y="159" width="4" height="4" fill="#3333DD"/>
<line x1="1046" y1="190.3" x2="1068" y2="190.3" stroke="#663300" stroke-width="2"/>
<path d="M1057,187.3 L1060,192.3 L1054,192.3 Z" fill="#663300"/>
<line x1="1046" y1="220.1" x2="1068" y2="220.1" stroke="#003300" stroke-width="2"/>
<rect x="1054.5" y="217.6" width="5" height="5" fill="#0D2E0D"/>
<line x1="1046" y1="249.4" x2="1068" y2="249.4" stroke="#000" stroke-width="2"/>
<line x1="1046" y1="279.5" x2="1068" y2="279.5" stroke="#000" stroke-width="2" stroke-dasharray="5.5 2.7"/>
<text x="1072.3" y="133.5" font-size="9" textLength="58.0" lengthAdjust="spacingAndGlyphs">Tp =7.5 Min.</text>
<text x="1072.3" y="164.0" font-size="9" textLength="58.4" lengthAdjust="spacingAndGlyphs">Tp =9.0 Min.</text>
<text x="1072.3" y="193.3" font-size="9" textLength="55.2" lengthAdjust="spacingAndGlyphs">Tp =10 Min.</text>
<text x="1072.3" y="223.1" font-size="9" textLength="63.3" lengthAdjust="spacingAndGlyphs">Tp =12.5 Min.</text>
<text x="1072.3" y="252.4" font-size="9" textLength="63.3" lengthAdjust="spacingAndGlyphs">Tp =25.8 Min.</text>
<text x="1072.5" y="282.5" font-size="9" textLength="74.8" lengthAdjust="spacingAndGlyphs">Rational Method</text>
<rect x="601.5" y="407.5" width="556.5" height="435.5" fill="none" stroke="#000" stroke-width="1" shape-rendering="crispEdges"/>
<text x="794.6" y="441.8" font-size="17" font-weight="bold" textLength="182.4" lengthAdjust="spacingAndGlyphs">Link  2 - 1 - Downstream</text>
<text x="754.4" y="465.9" font-size="14.5" font-weight="bold" textLength="263.6" lengthAdjust="spacingAndGlyphs">Vertical axis Q(L/s) - Horizontal axist(s)</text>
<line x1="645" y1="799.5" x2="1022.5" y2="799.5" stroke="#868686" stroke-width="1" shape-rendering="crispEdges"/>
<text x="636.5" y="804.0" font-size="12" font-weight="bold" text-anchor="end" textLength="6.8" lengthAdjust="spacingAndGlyphs">0</text>
<line x1="645" y1="765.5" x2="1022.5" y2="765.5" stroke="#868686" stroke-width="1" shape-rendering="crispEdges"/>
<text x="636.5" y="770.0" font-size="12" font-weight="bold" text-anchor="end" textLength="13.6" lengthAdjust="spacingAndGlyphs">50</text>
<line x1="645" y1="730.5" x2="1022.5" y2="730.5" stroke="#868686" stroke-width="1" shape-rendering="crispEdges"/>
<text x="636.5" y="735.0" font-size="12" font-weight="bold" text-anchor="end" textLength="20.4" lengthAdjust="spacingAndGlyphs">100</text>
<line x1="645" y1="695.5" x2="1022.5" y2="695.5" stroke="#868686" stroke-width="1" shape-rendering="crispEdges"/>
<text x="636.5" y="700.0" font-size="12" font-weight="bold" text-anchor="end" textLength="20.4" lengthAdjust="spacingAndGlyphs">150</text>
<line x1="645" y1="661.5" x2="1022.5" y2="661.5" stroke="#868686" stroke-width="1" shape-rendering="crispEdges"/>
<text x="636.5" y="666.0" font-size="12" font-weight="bold" text-anchor="end" textLength="20.4" lengthAdjust="spacingAndGlyphs">200</text>
<line x1="645" y1="625.5" x2="1022.5" y2="625.5" stroke="#868686" stroke-width="1" shape-rendering="crispEdges"/>
<text x="636.5" y="630.0" font-size="12" font-weight="bold" text-anchor="end" textLength="20.4" lengthAdjust="spacingAndGlyphs">250</text>
<line x1="645" y1="590.5" x2="1022.5" y2="590.5" stroke="#868686" stroke-width="1" shape-rendering="crispEdges"/>
<text x="636.5" y="595.0" font-size="12" font-weight="bold" text-anchor="end" textLength="20.4" lengthAdjust="spacingAndGlyphs">300</text>
<line x1="645" y1="556.5" x2="1022.5" y2="556.5" stroke="#868686" stroke-width="1" shape-rendering="crispEdges"/>
<text x="636.5" y="561.0" font-size="12" font-weight="bold" text-anchor="end" textLength="20.4" lengthAdjust="spacingAndGlyphs">350</text>
<line x1="645" y1="521.5" x2="1022.5" y2="521.5" stroke="#868686" stroke-width="1" shape-rendering="crispEdges"/>
<text x="636.5" y="526.0" font-size="12" font-weight="bold" text-anchor="end" textLength="20.4" lengthAdjust="spacingAndGlyphs">400</text>
<line x1="645" y1="486.5" x2="1022.5" y2="486.5" stroke="#868686" stroke-width="1" shape-rendering="crispEdges"/>
<text x="636.5" y="491.0" font-size="12" font-weight="bold" text-anchor="end" textLength="20.4" lengthAdjust="spacingAndGlyphs">450</text>
<line x1="650.5" y1="486" x2="650.5" y2="804" stroke="#868686" stroke-width="1" shape-rendering="crispEdges"/>
<line x1="650.5" y1="799.5" x2="650.5" y2="804" stroke="#868686" stroke-width="1" shape-rendering="crispEdges"/>
<text x="650.5" y="826.0" font-size="12" font-weight="bold" text-anchor="middle" textLength="6.7" lengthAdjust="spacingAndGlyphs">0</text>
<line x1="743.5" y1="799.5" x2="743.5" y2="804" stroke="#868686" stroke-width="1" shape-rendering="crispEdges"/>
<text x="743.5" y="826.0" font-size="12" font-weight="bold" text-anchor="middle" textLength="26.8" lengthAdjust="spacingAndGlyphs">1000</text>
<line x1="836.5" y1="799.5" x2="836.5" y2="804" stroke="#868686" stroke-width="1" shape-rendering="crispEdges"/>
<text x="836.5" y="826.0" font-size="12" font-weight="bold" text-anchor="middle" textLength="26.8" lengthAdjust="spacingAndGlyphs">2000</text>
<line x1="928.5" y1="799.5" x2="928.5" y2="804" stroke="#868686" stroke-width="1" shape-rendering="crispEdges"/>
<text x="928.5" y="826.0" font-size="12" font-weight="bold" text-anchor="middle" textLength="26.8" lengthAdjust="spacingAndGlyphs">3000</text>
<line x1="1021.5" y1="799.5" x2="1021.5" y2="804" stroke="#868686" stroke-width="1" shape-rendering="crispEdges"/>
<text x="1021.5" y="826.0" font-size="12" font-weight="bold" text-anchor="middle" textLength="26.8" lengthAdjust="spacingAndGlyphs">4000</text>
<path d="M650.50,789.53 L679.25,789.52 L681.11,789.38 L682.59,788.90 L683.89,788.00 L685.19,786.62 L688.34,781.81 L691.68,774.94 L693.91,768.74 L695.02,764.09 L695.95,758.73 L697.80,743.30 L700.21,717.11 L709.49,609.10 L712.64,578.87 L715.61,556.02 L717.47,544.42 L719.51,533.68 L721.36,525.67 L723.22,519.48 L725.07,515.19 L727.48,511.62 L728.97,510.05 L730.26,509.00 L731.56,508.33 L732.68,508.14 L733.60,508.32 L734.35,508.71 L736.20,510.54 L738.43,513.93 L740.47,517.96 L742.14,522.19 L743.81,527.33 L747.89,542.83 L751.60,559.52 L756.61,584.62 L763.84,627.86 L767.92,649.95 L775.34,687.14 L777.94,698.04 L779.42,702.62 L783.50,713.12 L788.33,726.82 L791.48,734.64 L794.45,740.93 L798.16,747.95 L801.50,753.65 L804.28,757.71 L806.13,759.95 L807.99,761.80 L814.48,767.09 L822.64,773.16 L832.29,779.64 L836.56,782.24 L839.90,783.86 L844.16,785.37 L849.17,786.70 L854.36,787.68 L860.30,788.44 L867.35,789.00 L875.33,789.36 L888.13,789.53 L945.82,789.53" fill="none" stroke="#6A6AA3" stroke-width="5.5" stroke-linecap="round" stroke-linejoin="round"/>
<path d="M650.50,789.53 L679.25,789.52 L681.11,789.38 L682.59,788.90 L683.89,788.00 L685.19,786.62 L688.34,781.81 L691.68,774.94 L693.91,768.74 L695.02,764.09 L695.95,758.73 L697.80,743.30 L700.21,717.11 L709.49,609.10 L712.64,578.87 L715.61,556.02 L717.47,544.42 L719.51,533.68 L721.36,525.67 L723.22,519.48 L725.07,515.19 L727.48,511.62 L728.97,510.05 L730.26,509.00 L731.56,508.33 L732.68,508.14 L733.60,508.32 L734.35,508.71 L736.20,510.54 L738.43,513.93 L740.47,517.96 L742.14,522.19 L743.81,527.33 L747.89,542.83 L751.60,559.52 L756.61,584.62 L763.84,627.86 L767.92,649.95 L775.34,687.14 L777.94,698.04 L779.42,702.62 L783.50,713.12 L788.33,726.82 L791.48,734.64 L794.45,740.93 L798.16,747.95 L801.50,753.65 L804.28,757.71 L806.13,759.95 L807.99,761.80 L814.48,767.09 L822.64,773.16 L832.29,779.64 L836.56,782.24 L839.90,783.86 L844.16,785.37 L849.17,786.70 L854.36,787.68 L860.30,788.44 L867.35,789.00 L875.33,789.36 L888.13,789.53 L945.82,789.53" fill="none" stroke="#6A6AA3" stroke-width="8" stroke-linecap="butt" stroke-linejoin="round" stroke-dasharray="1.2 3.3"/>
<path d="M650.50,789.53 L658.11,789.51 L660.52,789.21 L663.11,788.03 L666.08,785.66 L668.49,783.14 L672.02,778.92 L675.36,774.20 L676.66,771.75 L677.95,768.74 L680.37,761.34 L682.59,752.29 L684.82,741.31 L687.04,728.49 L689.08,714.85 L691.31,697.53 L695.58,660.45 L700.59,624.01 L706.34,572.60 L707.82,561.54 L709.12,553.59 L710.60,546.42 L712.09,540.86 L713.94,535.35 L716.17,530.08 L718.02,526.73 L720.06,524.14 L722.29,522.44 L723.40,522.03 L724.33,521.92 L726.00,522.37 L727.48,523.65 L728.97,525.78 L730.64,529.04 L732.68,534.07 L735.09,541.06 L737.13,547.71 L738.61,553.41 L740.28,561.18 L742.14,571.42 L751.60,629.93 L756.05,655.32 L758.28,666.32 L760.69,676.95 L763.10,686.43 L765.51,694.65 L767.37,699.97 L769.41,704.89 L778.12,724.12 L782.21,732.17 L786.10,738.78 L790.00,744.55 L794.26,749.99 L798.90,755.10 L804.09,760.00 L809.47,764.28 L813.74,767.04 L818.56,769.38 L831.18,774.17 L838.97,776.67 L850.10,779.50 L862.71,782.05 L873.47,783.83 L884.23,785.26 L895.17,786.37 L906.30,787.15 L939.88,788.39 L985.33,788.97" fill="none" stroke="#9C9C3A" stroke-width="3.2" stroke-linecap="round" stroke-linejoin="round"/>
<path d="M650.50,789.53 L660.52,789.52 L663.11,789.34 L665.53,788.50 L668.12,786.61 L670.16,784.53 L672.39,781.75 L674.99,778.11 L676.84,775.06 L678.33,772.09 L679.62,768.93 L682.03,761.35 L684.26,752.32 L686.49,741.36 L688.53,729.48 L690.57,715.51 L692.79,697.74 L697.06,660.17 L701.51,625.68 L706.89,576.93 L708.75,562.79 L710.42,552.25 L711.90,544.60 L713.57,537.61 L715.24,532.02 L716.91,527.74 L718.39,525.06 L720.25,522.94 L722.85,521.19 L723.96,520.78 L724.89,520.67 L726.37,521.10 L727.85,522.47 L729.34,524.74 L731.01,528.18 L732.86,532.93 L735.09,539.64 L737.13,546.58 L738.61,552.46 L740.28,560.40 L742.14,570.87 L750.86,626.49 L755.31,652.40 L757.72,664.62 L760.13,675.52 L762.73,685.97 L765.14,694.34 L766.99,699.73 L769.03,704.69 L777.94,724.33 L781.83,731.97 L785.54,738.18 L789.62,744.13 L794.08,749.75 L798.71,754.86 L803.91,759.80 L809.10,764.00 L813.55,766.94 L818.38,769.31 L831.18,774.17 L838.78,776.62 L849.73,779.41 L862.34,781.98 L873.10,783.77 L883.86,785.21 L894.99,786.35 L906.12,787.14 L939.69,788.39 L985.33,788.97" fill="none" stroke="#000" stroke-width="3.6" stroke-linecap="butt" stroke-linejoin="round" stroke-dasharray="21 9 2.5 9 2.5 8" stroke-dashoffset="49.2"/>
<line x1="1044.5" y1="545.1" x2="1076.5" y2="545.1" stroke="#6A6AA3" stroke-width="4"/>
<path d="M1060,541 L1062.5,545.1 L1060,549.2 L1057.5,545.1 Z" fill="#6A6AA3"/>
<line x1="1044.5" y1="616.2" x2="1076.5" y2="616.2" stroke="#9C9C3A" stroke-width="3.5"/>
<line x1="1045.5" y1="688.4" x2="1064" y2="688.4" stroke="#000" stroke-width="4" stroke-linecap="round"/>
<circle cx="1074" cy="688.4" r="1.3" fill="#000"/>
<text x="1079.1" y="549.5" font-size="13" textLength="57.0" lengthAdjust="spacingAndGlyphs">Simulation</text>
<text x="1079.1" y="567.0" font-size="13" textLength="34.5" lengthAdjust="spacingAndGlyphs">Model</text>
<text x="1079.1" y="621.3" font-size="13" textLength="64.0" lengthAdjust="spacingAndGlyphs">SWMM - G1</text>
<text x="1079.1" y="693.5" font-size="13" textLength="64.0" lengthAdjust="spacingAndGlyphs">SWMM - G2</text>
</svg>
</body></html>
